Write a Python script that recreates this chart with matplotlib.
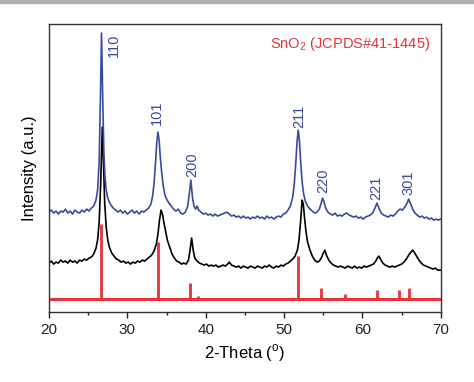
# XRD pattern of SnO2 samples with JCPDS reference sticks
import numpy as np
import matplotlib
matplotlib.use("Agg")
import matplotlib.pyplot as plt
from matplotlib.patches import Rectangle

plt.rcParams['font.family'] = ['Liberation Sans', 'DejaVu Sans']
plt.rcParams['mathtext.fontset'] = 'custom'
plt.rcParams['mathtext.rm'] = 'Liberation Sans'

# Upper (blue) pattern
blue_x = [20.0, 20.3, 20.6, 20.9, 21.2, 21.5, 21.8, 22.1, 22.4, 22.7, 23.0, 23.3, 23.6, 23.9,
          24.2, 24.5, 24.8, 25.1, 25.4, 25.7, 26.0, 26.2, 26.4, 26.55, 26.7, 26.85, 27.0, 27.15,
          27.3, 27.5, 27.7, 27.9, 28.2, 28.5, 28.8, 29.1, 29.4, 29.7, 30.0, 30.3, 30.6, 30.9,
          31.2, 31.5, 31.8, 32.1, 32.4, 32.7, 33.0, 33.2, 33.4, 33.6, 33.75, 33.9, 34.05, 34.2,
          34.4, 34.6, 34.8, 35.0, 35.3, 35.6, 35.9, 36.2, 36.5, 36.8, 37.1, 37.4, 37.7, 37.9,
          38.1, 38.3, 38.5, 38.7, 38.9, 39.1, 39.4, 39.7, 40.0, 40.3, 40.6, 40.9, 41.2, 41.5,
          41.8, 42.1, 42.4, 42.7, 43.0, 43.3, 43.6, 43.9, 44.2, 44.5, 44.8, 45.1, 45.4, 45.7,
          46.0, 46.3, 46.6, 46.9, 47.2, 47.5, 47.8, 48.1, 48.4, 48.7, 49.0, 49.3, 49.6, 49.9,
          50.2, 50.5, 50.8, 51.1, 51.3, 51.5, 51.65, 51.8, 51.95, 52.1, 52.3, 52.5, 52.7, 53.0,
          53.3, 53.6, 53.9, 54.2, 54.5, 54.7, 54.9, 55.1, 55.3, 55.6, 55.9, 56.2, 56.5, 56.8,
          57.1, 57.4, 57.7, 58.0, 58.3, 58.6, 58.9, 59.2, 59.5, 59.8, 60.1, 60.4, 60.7, 61.0,
          61.3, 61.6, 61.85, 62.1, 62.4, 62.7, 63.0, 63.3, 63.6, 63.9, 64.2, 64.5, 64.8, 65.1,
          65.4, 65.7, 65.9, 66.1, 66.4, 66.7, 67.0, 67.3, 67.6, 67.9, 68.2, 68.5, 68.8, 69.1,
          69.4, 69.7, 70.0]
blue_y = [100, 102, 99, 101, 98, 101, 100, 103, 99, 101, 98, 102, 100, 99,
          102, 100, 103, 101, 104, 106, 112, 122, 150, 210, 279, 215, 160, 135,
          122, 114, 110, 107, 104, 102, 100, 102, 99, 101, 98, 100, 102, 99,
          101, 98, 101, 100, 102, 104, 108, 115, 128, 150, 170, 180, 172, 155,
          138, 125, 117, 113, 109, 106, 103, 101, 103, 99, 98, 100, 106, 118,
          132, 115, 106, 103, 106, 102, 100, 98, 99, 97, 98, 96, 98, 96,
          97, 98, 99, 100, 98, 96, 97, 95, 96, 94, 96, 94, 95, 93,
          95, 94, 96, 94, 95, 93, 96, 94, 95, 93, 95, 96, 95, 98,
          99, 102, 106, 115, 128, 150, 170, 182, 172, 152, 130, 118, 111, 106,
          103, 101, 99, 100, 103, 108, 114, 110, 104, 100, 98, 97, 99, 96,
          97, 96, 98, 99, 97, 96, 95, 96, 94, 95, 93, 95, 96, 97,
          99, 104, 109, 104, 99, 97, 96, 95, 97, 96, 98, 101, 103, 102,
          105, 109, 113, 109, 103, 99, 97, 95, 96, 94, 95, 93, 94, 92,
          93, 92, 93]

# Lower (black) pattern
black_x = [20.0, 20.3, 20.6, 20.9, 21.2, 21.5, 21.8, 22.1, 22.4, 22.7, 23.0, 23.3, 23.6, 23.9,
           24.2, 24.5, 24.8, 25.1, 25.4, 25.7, 26.0, 26.2, 26.4, 26.6, 26.8, 26.95, 27.1, 27.3,
           27.5, 27.7, 28.0, 28.3, 28.6, 28.9, 29.2, 29.5, 29.8, 30.1, 30.4, 30.7, 31.0, 31.3,
           31.6, 31.9, 32.2, 32.5, 32.8, 33.1, 33.4, 33.7, 33.9, 34.1, 34.3, 34.5, 34.7, 34.9,
           35.1, 35.4, 35.7, 36.0, 36.3, 36.6, 36.9, 37.2, 37.5, 37.8, 38.0, 38.2, 38.4, 38.6,
           38.9, 39.2, 39.5, 39.8, 40.1, 40.4, 40.7, 41.0, 41.3, 41.6, 41.9, 42.2, 42.5, 42.8,
           43.0, 43.3, 43.6, 43.9, 44.2, 44.5, 44.8, 45.1, 45.4, 45.7, 46.0, 46.3, 46.6, 46.9,
           47.2, 47.5, 47.8, 48.1, 48.4, 48.7, 49.0, 49.3, 49.6, 49.9, 50.2, 50.5, 50.8, 51.1,
           51.4, 51.7, 51.9, 52.1, 52.3, 52.45, 52.6, 52.8, 53.0, 53.3, 53.6, 53.9, 54.2, 54.5,
           54.8, 55.0, 55.2, 55.4, 55.7, 56.0, 56.3, 56.6, 56.9, 57.2, 57.5, 57.8, 58.1, 58.4,
           58.7, 59.0, 59.3, 59.6, 59.9, 60.2, 60.5, 60.8, 61.1, 61.4, 61.7, 61.9, 62.1, 62.3,
           62.6, 62.9, 63.2, 63.5, 63.8, 64.1, 64.4, 64.7, 65.0, 65.3, 65.6, 65.9, 66.2, 66.4,
           66.6, 66.9, 67.2, 67.5, 67.8, 68.1, 68.4, 68.7, 69.0, 69.3, 69.6, 70.0]
black_y = [49, 51, 48, 50, 49, 52, 50, 51, 49, 52, 50, 51, 49, 52,
           51, 53, 52, 54, 55, 58, 64, 72, 90, 130, 185, 150, 110, 85,
           72, 65, 59, 56, 53, 52, 50, 51, 49, 50, 48, 50, 49, 51,
           50, 52, 51, 53, 55, 57, 61, 68, 78, 92, 102, 97, 88, 80,
           72, 65, 58, 54, 51, 50, 48, 49, 48, 52, 62, 74, 62, 54,
           51, 49, 48, 47, 48, 46, 47, 46, 47, 45, 46, 47, 46, 48,
           50, 47, 46, 45, 46, 44, 46, 45, 44, 46, 45, 44, 46, 45,
           44, 46, 45, 47, 45, 44, 46, 45, 47, 46, 48, 49, 51, 53,
           56, 62, 72, 90, 112, 108, 95, 80, 70, 62, 56, 52, 50, 51,
           55, 59, 62, 57, 52, 49, 47, 46, 45, 46, 45, 44, 46, 45,
           44, 46, 44, 45, 44, 46, 45, 46, 47, 48, 51, 54, 56, 53,
           49, 47, 46, 45, 46, 45, 46, 47, 48, 50, 53, 57, 60, 62,
           60, 56, 52, 49, 47, 46, 45, 44, 43, 44, 42, 42]

# JCPDS#41-1445 reference sticks
ref_pos = [26.6, 33.9, 37.95, 38.97, 51.8, 54.75, 57.8, 61.9, 64.7, 65.95]
ref_top = [88, 70, 29, 16, 56, 24, 18, 22, 22, 24]
ref_base = 13

# hkl labels: (text, x, bottom y)
hkl_text = ['110', '101', '200', '211', '220', '221', '301']
hkl_x = [28.3, 33.8, 38.25, 51.97, 55.0, 61.8, 65.9]
hkl_y = [255, 187, 135, 184, 119, 112, 117]

blue_c = '#3a4a9e'
red_c = '#e8323c'

fig = plt.figure(figsize=(4.74, 3.82), dpi=100)
ax = fig.add_axes([0.1034, 0.183, 0.8266, 0.754])

ax.plot(black_x, black_y, color='black', lw=1.2)
ax.plot(blue_x, blue_y, color=blue_c, lw=1.2)
ax.vlines(ref_pos, ref_base, ref_top, color=red_c, lw=2.0)
ax.axhline(ref_base, color=red_c, lw=2.2)

for t, x, y in zip(hkl_text, hkl_x, hkl_y):
    ax.text(x, y, t, rotation=90, ha='center', va='bottom', color=blue_c, fontsize=10.5)

ax.text(68.7, 268, 'SnO$_2$ (JCPDS#41-1445)', color=red_c, fontsize=10.5,
        ha='right', va='center')

ax.set_xlim(20, 70)
ax.set_ylim(0, 288)
ax.set_xticks([20, 30, 40, 50, 60, 70])
ax.set_xticks([25, 35, 45, 55, 65], minor=True)
ax.set_yticks([])
ax.tick_params(axis='x', which='major', direction='out', length=4.5, width=1, labelsize=11, colors='#222222')
ax.tick_params(axis='x', which='minor', direction='out', length=2.5, width=1, colors='#222222')
for s in ax.spines.values():
    s.set_linewidth(1.0)
    s.set_color('#333333')

ax.set_xlabel('2-Theta ($^{\\rm o}$)', fontsize=12, labelpad=4)
ax.set_ylabel('Intensity (a.u.)', fontsize=12, labelpad=9)

# thin grey strip along the top edge of the picture
fig.patches.append(Rectangle((0, 0.993), 1, 0.007, transform=fig.transFigure,
                             color='#b0b0b0', zorder=0))

fig.savefig('out.png', dpi=100)
